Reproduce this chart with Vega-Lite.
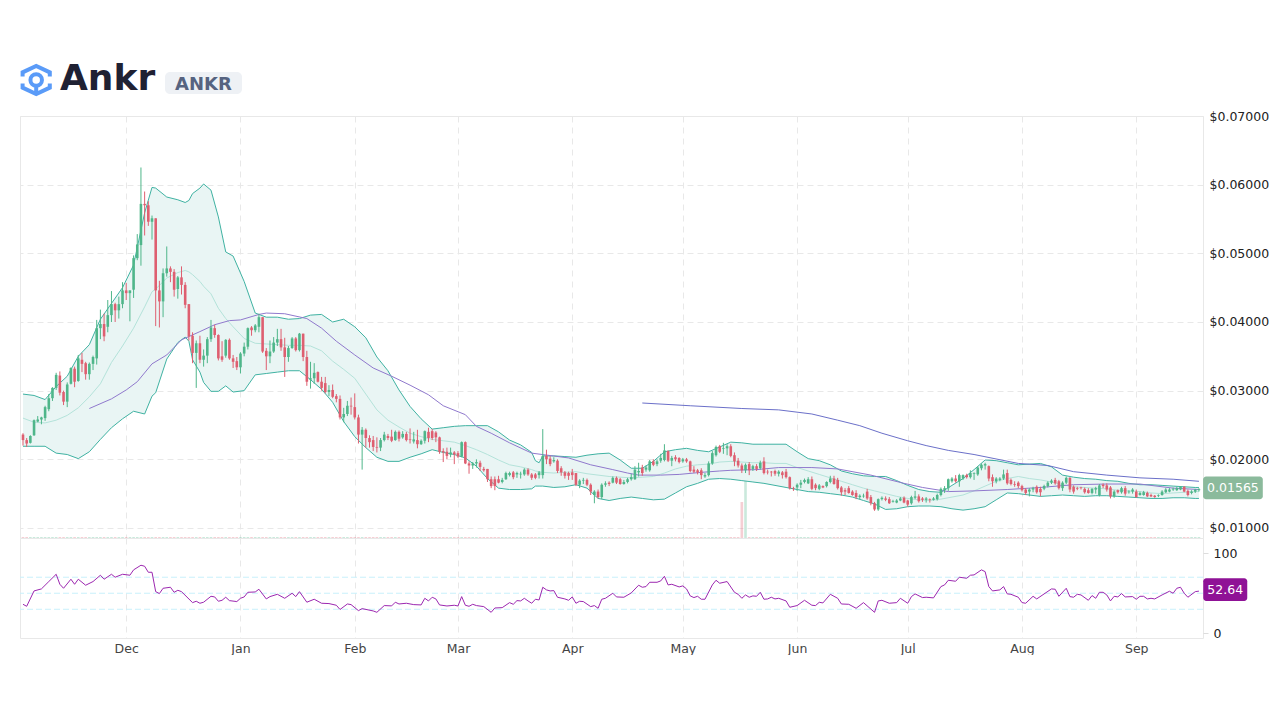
{"$schema":"https://vega.github.io/schema/vega-lite/v6.json","background":"white","padding":{"left":14,"top":56,"right":0,"bottom":0},"bounds":"flush","spacing":0,
"datasets":{
"candles":[
{"date":"2022-11-03","o":0.0236,"h":0.0238,"l":0.022,"c":0.0228,"v":1},{"date":"2022-11-04","o":0.0228,"h":0.0231,"l":0.0218,"c":0.0223,"v":1},{"date":"2022-11-05","o":0.0224,"h":0.0235,"l":0.0223,"c":0.0234,"v":1},{"date":"2022-11-06","o":0.0235,"h":0.0258,"l":0.0234,"c":0.0257,"v":1},{"date":"2022-11-07","o":0.0255,"h":0.0263,"l":0.0254,"c":0.0258,"v":1},{"date":"2022-11-08","o":0.0258,"h":0.0262,"l":0.0251,"c":0.0261,"v":1},{"date":"2022-11-09","o":0.026,"h":0.0278,"l":0.0256,"c":0.0276,"v":1},{"date":"2022-11-10","o":0.0273,"h":0.0295,"l":0.027,"c":0.0289,"v":1},{"date":"2022-11-11","o":0.0289,"h":0.0305,"l":0.0285,"c":0.0304,"v":1},{"date":"2022-11-12","o":0.0304,"h":0.0326,"l":0.0301,"c":0.0323,"v":1},
{"date":"2022-11-13","o":0.0322,"h":0.0328,"l":0.0293,"c":0.0297,"v":1},{"date":"2022-11-14","o":0.0298,"h":0.03,"l":0.0279,"c":0.0284,"v":1},{"date":"2022-11-15","o":0.0284,"h":0.0312,"l":0.0276,"c":0.0309,"v":1},{"date":"2022-11-16","o":0.031,"h":0.0334,"l":0.0309,"c":0.0333,"v":1},{"date":"2022-11-17","o":0.0332,"h":0.0335,"l":0.0305,"c":0.0313,"v":1},{"date":"2022-11-18","o":0.0314,"h":0.0352,"l":0.0313,"c":0.0347,"v":1},{"date":"2022-11-19","o":0.0345,"h":0.0355,"l":0.0327,"c":0.0339,"v":1},{"date":"2022-11-20","o":0.034,"h":0.0342,"l":0.0316,"c":0.0324,"v":1},{"date":"2022-11-21","o":0.0324,"h":0.0341,"l":0.0316,"c":0.0339,"v":1},{"date":"2022-11-22","o":0.0339,"h":0.0351,"l":0.033,"c":0.0349,"v":1},
{"date":"2022-11-23","o":0.0347,"h":0.0403,"l":0.0338,"c":0.0391,"v":1},{"date":"2022-11-24","o":0.0391,"h":0.0418,"l":0.0375,"c":0.0397,"v":1},{"date":"2022-11-25","o":0.0397,"h":0.0412,"l":0.0372,"c":0.0379,"v":1},{"date":"2022-11-26","o":0.0393,"h":0.0432,"l":0.0385,"c":0.041,"v":1},{"date":"2022-11-27","o":0.041,"h":0.0445,"l":0.04,"c":0.0426,"v":1},{"date":"2022-11-28","o":0.0426,"h":0.0428,"l":0.04,"c":0.0417,"v":1},{"date":"2022-11-29","o":0.0417,"h":0.0437,"l":0.0405,"c":0.0426,"v":1},{"date":"2022-11-30","o":0.0426,"h":0.0458,"l":0.042,"c":0.0446,"v":1},
{"date":"2022-12-01","o":0.0446,"h":0.0457,"l":0.0432,"c":0.0442,"v":1},{"date":"2022-12-02","o":0.0442,"h":0.0446,"l":0.0401,"c":0.0446,"v":1},{"date":"2022-12-03","o":0.0447,"h":0.0497,"l":0.0435,"c":0.0493,"v":1},{"date":"2022-12-04","o":0.0493,"h":0.0528,"l":0.049,"c":0.0513,"v":1},{"date":"2022-12-05","o":0.0512,"h":0.0625,"l":0.0482,"c":0.0572,"v":1},{"date":"2022-12-06","o":0.0572,"h":0.059,"l":0.0526,"c":0.057,"v":1},{"date":"2022-12-07","o":0.057,"h":0.0576,"l":0.054,"c":0.0546,"v":1},{"date":"2022-12-08","o":0.0546,"h":0.0555,"l":0.052,"c":0.0551,"v":1},{"date":"2022-12-09","o":0.0551,"h":0.0551,"l":0.0394,"c":0.0446,"v":1},{"date":"2022-12-10","o":0.0446,"h":0.046,"l":0.0392,"c":0.043,"v":1},
{"date":"2022-12-11","o":0.043,"h":0.0478,"l":0.0407,"c":0.0471,"v":1},{"date":"2022-12-12","o":0.0471,"h":0.051,"l":0.0466,"c":0.0478,"v":1},{"date":"2022-12-13","o":0.0478,"h":0.0481,"l":0.0458,"c":0.0473,"v":1},{"date":"2022-12-14","o":0.0473,"h":0.0477,"l":0.0437,"c":0.0447,"v":1},{"date":"2022-12-15","o":0.0448,"h":0.0467,"l":0.0434,"c":0.0465,"v":1},{"date":"2022-12-16","o":0.0465,"h":0.0481,"l":0.044,"c":0.0454,"v":1},{"date":"2022-12-17","o":0.0454,"h":0.0458,"l":0.042,"c":0.0425,"v":1},{"date":"2022-12-18","o":0.0426,"h":0.0426,"l":0.0373,"c":0.0379,"v":1},{"date":"2022-12-19","o":0.038,"h":0.0385,"l":0.034,"c":0.0355,"v":1},{"date":"2022-12-20","o":0.0355,"h":0.0373,"l":0.0304,"c":0.0369,"v":1},
{"date":"2022-12-21","o":0.0369,"h":0.038,"l":0.034,"c":0.0345,"v":1},{"date":"2022-12-22","o":0.0345,"h":0.036,"l":0.0335,"c":0.0351,"v":1},{"date":"2022-12-23","o":0.0351,"h":0.0378,"l":0.034,"c":0.0375,"v":1},{"date":"2022-12-24","o":0.0375,"h":0.0403,"l":0.0371,"c":0.0392,"v":1},{"date":"2022-12-25","o":0.0391,"h":0.0396,"l":0.0377,"c":0.0381,"v":1},{"date":"2022-12-26","o":0.0381,"h":0.0382,"l":0.0344,"c":0.0347,"v":1},{"date":"2022-12-27","o":0.035,"h":0.0372,"l":0.0342,"c":0.0345,"v":1},{"date":"2022-12-28","o":0.0351,"h":0.0375,"l":0.0348,"c":0.0374,"v":1},{"date":"2022-12-29","o":0.0374,"h":0.0376,"l":0.0345,"c":0.0347,"v":1},{"date":"2022-12-30","o":0.0347,"h":0.0352,"l":0.0333,"c":0.0342,"v":1},{"date":"2022-12-31","o":0.0343,"h":0.0349,"l":0.033,"c":0.0334,"v":1},
{"date":"2023-01-01","o":0.0334,"h":0.0356,"l":0.0325,"c":0.0354,"v":1},{"date":"2023-01-02","o":0.0354,"h":0.037,"l":0.035,"c":0.0364,"v":1},{"date":"2023-01-03","o":0.0364,"h":0.0392,"l":0.036,"c":0.0391,"v":1},{"date":"2023-01-04","o":0.0392,"h":0.0394,"l":0.038,"c":0.0388,"v":1},{"date":"2023-01-05","o":0.0388,"h":0.0397,"l":0.0385,"c":0.0395,"v":1},{"date":"2023-01-06","o":0.0393,"h":0.0412,"l":0.0385,"c":0.0407,"v":1},{"date":"2023-01-07","o":0.0407,"h":0.0407,"l":0.0355,"c":0.0357,"v":1},{"date":"2023-01-08","o":0.0358,"h":0.0362,"l":0.033,"c":0.035,"v":1},{"date":"2023-01-09","o":0.035,"h":0.0373,"l":0.034,"c":0.0357,"v":1},{"date":"2023-01-10","o":0.0357,"h":0.0378,"l":0.0355,"c":0.037,"v":1},
{"date":"2023-01-11","o":0.037,"h":0.039,"l":0.0365,"c":0.0375,"v":1},{"date":"2023-01-12","o":0.0375,"h":0.039,"l":0.0358,"c":0.0363,"v":1},{"date":"2023-01-13","o":0.0363,"h":0.0377,"l":0.032,"c":0.0349,"v":1},{"date":"2023-01-14","o":0.0349,"h":0.0365,"l":0.0342,"c":0.0362,"v":1},{"date":"2023-01-15","o":0.0362,"h":0.0378,"l":0.0361,"c":0.0376,"v":1},{"date":"2023-01-16","o":0.0376,"h":0.0378,"l":0.0357,"c":0.0359,"v":1},{"date":"2023-01-17","o":0.0359,"h":0.0384,"l":0.0357,"c":0.0383,"v":1},{"date":"2023-01-18","o":0.0383,"h":0.0383,"l":0.0343,"c":0.0349,"v":1},{"date":"2023-01-19","o":0.0349,"h":0.0358,"l":0.0307,"c":0.0313,"v":1},{"date":"2023-01-20","o":0.0316,"h":0.0342,"l":0.0303,"c":0.0318,"v":1},
{"date":"2023-01-21","o":0.0318,"h":0.034,"l":0.031,"c":0.0326,"v":1},{"date":"2023-01-22","o":0.0327,"h":0.0328,"l":0.0312,"c":0.0313,"v":1},{"date":"2023-01-23","o":0.0313,"h":0.032,"l":0.03,"c":0.0304,"v":1},{"date":"2023-01-24","o":0.0311,"h":0.032,"l":0.0296,"c":0.0298,"v":1},{"date":"2023-01-25","o":0.0298,"h":0.0308,"l":0.0292,"c":0.0301,"v":1},{"date":"2023-01-26","o":0.0301,"h":0.0309,"l":0.0289,"c":0.0291,"v":1},{"date":"2023-01-27","o":0.0292,"h":0.0295,"l":0.0283,"c":0.0288,"v":1},{"date":"2023-01-28","o":0.0288,"h":0.0293,"l":0.0258,"c":0.0261,"v":1},{"date":"2023-01-29","o":0.0261,"h":0.0275,"l":0.0254,"c":0.0266,"v":1},{"date":"2023-01-30","o":0.0266,"h":0.0285,"l":0.0263,"c":0.0278,"v":1},{"date":"2023-01-31","o":0.0278,"h":0.029,"l":0.0265,"c":0.0277,"v":1},
{"date":"2023-02-01","o":0.0276,"h":0.0296,"l":0.0258,"c":0.0261,"v":1},{"date":"2023-02-02","o":0.0261,"h":0.0265,"l":0.0223,"c":0.0236,"v":1},{"date":"2023-02-03","o":0.0236,"h":0.0247,"l":0.0185,"c":0.0243,"v":1},{"date":"2023-02-04","o":0.0243,"h":0.0245,"l":0.0217,"c":0.0231,"v":1},{"date":"2023-02-05","o":0.0231,"h":0.0235,"l":0.0217,"c":0.0225,"v":1},{"date":"2023-02-06","o":0.0228,"h":0.0234,"l":0.0212,"c":0.0218,"v":1},{"date":"2023-02-07","o":0.0218,"h":0.0232,"l":0.021,"c":0.0217,"v":1},{"date":"2023-02-08","o":0.0217,"h":0.0231,"l":0.0212,"c":0.0228,"v":1},{"date":"2023-02-09","o":0.0228,"h":0.024,"l":0.0226,"c":0.0236,"v":1},{"date":"2023-02-10","o":0.0234,"h":0.0237,"l":0.0228,"c":0.0231,"v":1},
{"date":"2023-02-11","o":0.0233,"h":0.0243,"l":0.0225,"c":0.0227,"v":1},{"date":"2023-02-12","o":0.0228,"h":0.0242,"l":0.0227,"c":0.024,"v":1},{"date":"2023-02-13","o":0.024,"h":0.0242,"l":0.0226,"c":0.023,"v":1},{"date":"2023-02-14","o":0.0232,"h":0.0241,"l":0.023,"c":0.0237,"v":1},{"date":"2023-02-15","o":0.0237,"h":0.024,"l":0.0226,"c":0.0228,"v":1},{"date":"2023-02-16","o":0.0229,"h":0.0245,"l":0.0223,"c":0.0228,"v":1},{"date":"2023-02-17","o":0.0226,"h":0.024,"l":0.0223,"c":0.0229,"v":1},{"date":"2023-02-18","o":0.0228,"h":0.0243,"l":0.0216,"c":0.0222,"v":1},{"date":"2023-02-19","o":0.0222,"h":0.0229,"l":0.0221,"c":0.0227,"v":1},{"date":"2023-02-20","o":0.0227,"h":0.0242,"l":0.0223,"c":0.0241,"v":1},
{"date":"2023-02-21","o":0.024,"h":0.0246,"l":0.0225,"c":0.0231,"v":1},{"date":"2023-02-22","o":0.0241,"h":0.0244,"l":0.0228,"c":0.0231,"v":1},{"date":"2023-02-23","o":0.0239,"h":0.0241,"l":0.0225,"c":0.0232,"v":1},{"date":"2023-02-24","o":0.0232,"h":0.0233,"l":0.0208,"c":0.0211,"v":1},{"date":"2023-02-25","o":0.0212,"h":0.0216,"l":0.0196,"c":0.021,"v":1},{"date":"2023-02-26","o":0.0211,"h":0.0217,"l":0.02,"c":0.0205,"v":1},{"date":"2023-02-27","o":0.0207,"h":0.0217,"l":0.0203,"c":0.021,"v":1},{"date":"2023-02-28","o":0.021,"h":0.0212,"l":0.0193,"c":0.0207,"v":1},
{"date":"2023-03-01","o":0.0209,"h":0.0212,"l":0.0202,"c":0.0204,"v":1},{"date":"2023-03-02","o":0.0204,"h":0.0226,"l":0.0203,"c":0.0225,"v":1},{"date":"2023-03-03","o":0.0225,"h":0.0226,"l":0.0193,"c":0.0194,"v":1},{"date":"2023-03-04","o":0.0194,"h":0.0197,"l":0.0179,"c":0.0191,"v":1},{"date":"2023-03-05","o":0.0191,"h":0.0196,"l":0.0186,"c":0.0194,"v":1},{"date":"2023-03-06","o":0.0194,"h":0.02,"l":0.0188,"c":0.0196,"v":1},{"date":"2023-03-07","o":0.0195,"h":0.0198,"l":0.0183,"c":0.0189,"v":1},{"date":"2023-03-08","o":0.0186,"h":0.0189,"l":0.0182,"c":0.0184,"v":1},{"date":"2023-03-09","o":0.0186,"h":0.0186,"l":0.0167,"c":0.0171,"v":1},{"date":"2023-03-10","o":0.0171,"h":0.0175,"l":0.0158,"c":0.0161,"v":1},
{"date":"2023-03-11","o":0.0171,"h":0.0175,"l":0.0155,"c":0.0161,"v":1},{"date":"2023-03-12","o":0.0171,"h":0.0176,"l":0.0165,"c":0.0166,"v":1},{"date":"2023-03-13","o":0.0167,"h":0.0173,"l":0.0165,"c":0.017,"v":1},{"date":"2023-03-14","o":0.0171,"h":0.0182,"l":0.017,"c":0.018,"v":1},{"date":"2023-03-15","o":0.0177,"h":0.0182,"l":0.0175,"c":0.018,"v":1},{"date":"2023-03-16","o":0.0181,"h":0.0183,"l":0.0171,"c":0.0174,"v":1},{"date":"2023-03-17","o":0.0178,"h":0.0182,"l":0.0173,"c":0.018,"v":1},{"date":"2023-03-18","o":0.0178,"h":0.0182,"l":0.0172,"c":0.0179,"v":1},{"date":"2023-03-19","o":0.0178,"h":0.0187,"l":0.0176,"c":0.0185,"v":1},{"date":"2023-03-20","o":0.0185,"h":0.0187,"l":0.0176,"c":0.0178,"v":1},
{"date":"2023-03-21","o":0.0178,"h":0.018,"l":0.017,"c":0.0173,"v":1},{"date":"2023-03-22","o":0.0178,"h":0.018,"l":0.0171,"c":0.0173,"v":1},{"date":"2023-03-23","o":0.0177,"h":0.0183,"l":0.0172,"c":0.0181,"v":1},{"date":"2023-03-24","o":0.0177,"h":0.0244,"l":0.0172,"c":0.0205,"v":1},{"date":"2023-03-25","o":0.0205,"h":0.0214,"l":0.0193,"c":0.02,"v":1},{"date":"2023-03-26","o":0.0201,"h":0.0205,"l":0.019,"c":0.0193,"v":1},{"date":"2023-03-27","o":0.0197,"h":0.0203,"l":0.0195,"c":0.0199,"v":1},{"date":"2023-03-28","o":0.0198,"h":0.02,"l":0.018,"c":0.0183,"v":1},{"date":"2023-03-29","o":0.0187,"h":0.019,"l":0.0176,"c":0.0181,"v":1},{"date":"2023-03-30","o":0.0181,"h":0.0183,"l":0.0172,"c":0.0176,"v":1},{"date":"2023-03-31","o":0.018,"h":0.0182,"l":0.017,"c":0.0176,"v":1},
{"date":"2023-04-01","o":0.0181,"h":0.0186,"l":0.017,"c":0.0177,"v":1},{"date":"2023-04-02","o":0.018,"h":0.018,"l":0.0161,"c":0.0163,"v":1},{"date":"2023-04-03","o":0.0163,"h":0.0171,"l":0.0158,"c":0.0169,"v":1},{"date":"2023-04-04","o":0.0169,"h":0.0173,"l":0.0164,"c":0.017,"v":1},{"date":"2023-04-05","o":0.017,"h":0.0172,"l":0.0161,"c":0.0163,"v":1},{"date":"2023-04-06","o":0.0163,"h":0.0165,"l":0.0148,"c":0.0153,"v":1},{"date":"2023-04-07","o":0.0148,"h":0.0155,"l":0.0136,"c":0.0153,"v":1},{"date":"2023-04-08","o":0.0153,"h":0.0156,"l":0.0143,"c":0.0145,"v":1},{"date":"2023-04-09","o":0.0145,"h":0.0165,"l":0.0142,"c":0.0163,"v":1},{"date":"2023-04-10","o":0.0163,"h":0.0168,"l":0.016,"c":0.0165,"v":1},
{"date":"2023-04-11","o":0.0166,"h":0.0168,"l":0.0161,"c":0.0164,"v":1},{"date":"2023-04-12","o":0.0166,"h":0.0175,"l":0.0165,"c":0.0173,"v":1},{"date":"2023-04-13","o":0.0173,"h":0.0175,"l":0.0164,"c":0.0166,"v":1},{"date":"2023-04-14","o":0.0171,"h":0.0173,"l":0.0163,"c":0.0164,"v":1},{"date":"2023-04-15","o":0.0164,"h":0.017,"l":0.0163,"c":0.0167,"v":1},{"date":"2023-04-16","o":0.0167,"h":0.0173,"l":0.0165,"c":0.0171,"v":1},{"date":"2023-04-17","o":0.0171,"h":0.0179,"l":0.0169,"c":0.0174,"v":1},{"date":"2023-04-18","o":0.0171,"h":0.019,"l":0.017,"c":0.0185,"v":1},{"date":"2023-04-19","o":0.0181,"h":0.0195,"l":0.0175,"c":0.0183,"v":1},{"date":"2023-04-20","o":0.0188,"h":0.0192,"l":0.0176,"c":0.018,"v":1},
{"date":"2023-04-21","o":0.0185,"h":0.0191,"l":0.0182,"c":0.0188,"v":1},{"date":"2023-04-22","o":0.0184,"h":0.0199,"l":0.0182,"c":0.0197,"v":1},{"date":"2023-04-23","o":0.0197,"h":0.02,"l":0.019,"c":0.0192,"v":1},{"date":"2023-04-24","o":0.0193,"h":0.02,"l":0.019,"c":0.0197,"v":1},{"date":"2023-04-25","o":0.0198,"h":0.0208,"l":0.0195,"c":0.0202,"v":1},{"date":"2023-04-26","o":0.0199,"h":0.0222,"l":0.0197,"c":0.0213,"v":1},{"date":"2023-04-27","o":0.0212,"h":0.0213,"l":0.0196,"c":0.0198,"v":1},{"date":"2023-04-28","o":0.0198,"h":0.0205,"l":0.019,"c":0.0202,"v":1},{"date":"2023-04-29","o":0.0203,"h":0.0206,"l":0.0197,"c":0.02,"v":1},{"date":"2023-04-30","o":0.0202,"h":0.0203,"l":0.0194,"c":0.0196,"v":1},
{"date":"2023-05-01","o":0.0197,"h":0.0202,"l":0.0195,"c":0.02,"v":1},{"date":"2023-05-02","o":0.02,"h":0.0202,"l":0.0195,"c":0.0197,"v":1},{"date":"2023-05-03","o":0.0197,"h":0.0198,"l":0.0181,"c":0.0183,"v":1},{"date":"2023-05-04","o":0.0185,"h":0.019,"l":0.018,"c":0.0182,"v":1},{"date":"2023-05-05","o":0.0184,"h":0.0186,"l":0.0178,"c":0.0181,"v":1},{"date":"2023-05-06","o":0.0184,"h":0.0187,"l":0.0171,"c":0.0177,"v":1},{"date":"2023-05-07","o":0.0175,"h":0.018,"l":0.0173,"c":0.0177,"v":1},{"date":"2023-05-08","o":0.0177,"h":0.0197,"l":0.0175,"c":0.0194,"v":1},{"date":"2023-05-09","o":0.0194,"h":0.0212,"l":0.0192,"c":0.0209,"v":1},{"date":"2023-05-10","o":0.0206,"h":0.022,"l":0.0204,"c":0.0218,"v":1},
{"date":"2023-05-11","o":0.0219,"h":0.0221,"l":0.0209,"c":0.0211,"v":1},{"date":"2023-05-12","o":0.0215,"h":0.0224,"l":0.0208,"c":0.0216,"v":1},{"date":"2023-05-13","o":0.0216,"h":0.0222,"l":0.0206,"c":0.0219,"v":1},{"date":"2023-05-14","o":0.0219,"h":0.0222,"l":0.0203,"c":0.0205,"v":1},{"date":"2023-05-15","o":0.0206,"h":0.021,"l":0.019,"c":0.0197,"v":1},{"date":"2023-05-16","o":0.0198,"h":0.0202,"l":0.0188,"c":0.0191,"v":1},{"date":"2023-05-17","o":0.0191,"h":0.0194,"l":0.018,"c":0.0184,"v":36},{"date":"2023-05-18","o":0.0184,"h":0.0194,"l":0.018,"c":0.0192,"v":71},{"date":"2023-05-19","o":0.0193,"h":0.0196,"l":0.0177,"c":0.0184,"v":1},{"date":"2023-05-20","o":0.0186,"h":0.0192,"l":0.0183,"c":0.019,"v":1},
{"date":"2023-05-21","o":0.019,"h":0.0193,"l":0.0183,"c":0.0186,"v":1},{"date":"2023-05-22","o":0.0187,"h":0.0198,"l":0.0185,"c":0.0195,"v":1},{"date":"2023-05-23","o":0.0197,"h":0.0203,"l":0.0178,"c":0.018,"v":1},{"date":"2023-05-24","o":0.0182,"h":0.0185,"l":0.0178,"c":0.0181,"v":1},{"date":"2023-05-25","o":0.0182,"h":0.0183,"l":0.0175,"c":0.0181,"v":1},{"date":"2023-05-26","o":0.0183,"h":0.0185,"l":0.0176,"c":0.0179,"v":1},{"date":"2023-05-27","o":0.0179,"h":0.0184,"l":0.0175,"c":0.0182,"v":1},{"date":"2023-05-28","o":0.0181,"h":0.0183,"l":0.0172,"c":0.0177,"v":1},{"date":"2023-05-29","o":0.0182,"h":0.0186,"l":0.0172,"c":0.0174,"v":1},{"date":"2023-05-30","o":0.0174,"h":0.0175,"l":0.0156,"c":0.0158,"v":1},{"date":"2023-05-31","o":0.0158,"h":0.016,"l":0.0154,"c":0.0157,"v":1},
{"date":"2023-06-01","o":0.0159,"h":0.0165,"l":0.0154,"c":0.0163,"v":1},{"date":"2023-06-02","o":0.0163,"h":0.017,"l":0.0158,"c":0.0166,"v":1},{"date":"2023-06-03","o":0.0167,"h":0.0172,"l":0.0165,"c":0.017,"v":1},{"date":"2023-06-04","o":0.0165,"h":0.0174,"l":0.0164,"c":0.0171,"v":1},{"date":"2023-06-05","o":0.0171,"h":0.0175,"l":0.0155,"c":0.0157,"v":1},{"date":"2023-06-06","o":0.0163,"h":0.0165,"l":0.0155,"c":0.0158,"v":1},{"date":"2023-06-07","o":0.0157,"h":0.0164,"l":0.0155,"c":0.0162,"v":1},{"date":"2023-06-08","o":0.0161,"h":0.0162,"l":0.0158,"c":0.0159,"v":1},{"date":"2023-06-09","o":0.0161,"h":0.0168,"l":0.0159,"c":0.0167,"v":1},{"date":"2023-06-10","o":0.0167,"h":0.0176,"l":0.0165,"c":0.0172,"v":1},
{"date":"2023-06-11","o":0.0172,"h":0.0176,"l":0.0163,"c":0.0164,"v":1},{"date":"2023-06-12","o":0.017,"h":0.0173,"l":0.0156,"c":0.0158,"v":1},{"date":"2023-06-13","o":0.0159,"h":0.0161,"l":0.0147,"c":0.0152,"v":1},{"date":"2023-06-14","o":0.0155,"h":0.0158,"l":0.0148,"c":0.0153,"v":1},{"date":"2023-06-15","o":0.0158,"h":0.0161,"l":0.015,"c":0.0151,"v":1},{"date":"2023-06-16","o":0.0153,"h":0.0155,"l":0.0147,"c":0.0148,"v":1},{"date":"2023-06-17","o":0.0151,"h":0.0155,"l":0.0142,"c":0.0145,"v":1},{"date":"2023-06-18","o":0.0145,"h":0.0149,"l":0.0142,"c":0.0147,"v":1},{"date":"2023-06-19","o":0.0146,"h":0.015,"l":0.0144,"c":0.0147,"v":1},{"date":"2023-06-20","o":0.0153,"h":0.0157,"l":0.0141,"c":0.0143,"v":1},
{"date":"2023-06-21","o":0.0145,"h":0.0148,"l":0.0133,"c":0.0136,"v":1},{"date":"2023-06-22","o":0.0136,"h":0.0138,"l":0.0125,"c":0.0127,"v":1},{"date":"2023-06-23","o":0.0127,"h":0.0143,"l":0.0125,"c":0.0142,"v":1},{"date":"2023-06-24","o":0.0142,"h":0.0146,"l":0.014,"c":0.0144,"v":1},{"date":"2023-06-25","o":0.0143,"h":0.0146,"l":0.0139,"c":0.0141,"v":1},{"date":"2023-06-26","o":0.0142,"h":0.0145,"l":0.0135,"c":0.0136,"v":1},{"date":"2023-06-27","o":0.0138,"h":0.0141,"l":0.0137,"c":0.0139,"v":1},{"date":"2023-06-28","o":0.0137,"h":0.0142,"l":0.0136,"c":0.014,"v":1},{"date":"2023-06-29","o":0.014,"h":0.0145,"l":0.0139,"c":0.0143,"v":1},{"date":"2023-06-30","o":0.0144,"h":0.0146,"l":0.0136,"c":0.0137,"v":1},
{"date":"2023-07-01","o":0.014,"h":0.0141,"l":0.0131,"c":0.0134,"v":1},{"date":"2023-07-02","o":0.0136,"h":0.0147,"l":0.0134,"c":0.0145,"v":1},{"date":"2023-07-03","o":0.0144,"h":0.0154,"l":0.0142,"c":0.0146,"v":1},{"date":"2023-07-04","o":0.0146,"h":0.0149,"l":0.0137,"c":0.0139,"v":1},{"date":"2023-07-05","o":0.0143,"h":0.0145,"l":0.0138,"c":0.0141,"v":1},{"date":"2023-07-06","o":0.0141,"h":0.0145,"l":0.0137,"c":0.0143,"v":1},{"date":"2023-07-07","o":0.0142,"h":0.0143,"l":0.0137,"c":0.0141,"v":1},{"date":"2023-07-08","o":0.0141,"h":0.0145,"l":0.014,"c":0.0143,"v":1},{"date":"2023-07-09","o":0.0142,"h":0.015,"l":0.014,"c":0.0148,"v":1},{"date":"2023-07-10","o":0.0148,"h":0.0159,"l":0.0146,"c":0.0157,"v":1},
{"date":"2023-07-11","o":0.0155,"h":0.0161,"l":0.0151,"c":0.0158,"v":1},{"date":"2023-07-12","o":0.0158,"h":0.0172,"l":0.0154,"c":0.0171,"v":1},{"date":"2023-07-13","o":0.0168,"h":0.0174,"l":0.0166,"c":0.0172,"v":1},{"date":"2023-07-14","o":0.0172,"h":0.0177,"l":0.0166,"c":0.0168,"v":1},{"date":"2023-07-15","o":0.0168,"h":0.0179,"l":0.016,"c":0.0177,"v":1},{"date":"2023-07-16","o":0.0172,"h":0.0178,"l":0.017,"c":0.0177,"v":1},{"date":"2023-07-17","o":0.0177,"h":0.0179,"l":0.0172,"c":0.0174,"v":1},{"date":"2023-07-18","o":0.0174,"h":0.0184,"l":0.0172,"c":0.018,"v":1},{"date":"2023-07-19","o":0.0179,"h":0.0181,"l":0.017,"c":0.018,"v":1},{"date":"2023-07-20","o":0.0178,"h":0.019,"l":0.0176,"c":0.0188,"v":1},
{"date":"2023-07-21","o":0.0187,"h":0.0194,"l":0.0184,"c":0.0192,"v":1},{"date":"2023-07-22","o":0.0191,"h":0.0195,"l":0.0185,"c":0.0193,"v":1},{"date":"2023-07-23","o":0.019,"h":0.0191,"l":0.0168,"c":0.0172,"v":1},{"date":"2023-07-24","o":0.0174,"h":0.0178,"l":0.016,"c":0.0168,"v":1},{"date":"2023-07-25","o":0.0168,"h":0.0174,"l":0.0165,"c":0.0172,"v":1},{"date":"2023-07-26","o":0.017,"h":0.0174,"l":0.0168,"c":0.0172,"v":1},{"date":"2023-07-27","o":0.0172,"h":0.0185,"l":0.017,"c":0.0178,"v":1},{"date":"2023-07-28","o":0.018,"h":0.0185,"l":0.0163,"c":0.0165,"v":1},{"date":"2023-07-29","o":0.017,"h":0.0172,"l":0.0162,"c":0.0164,"v":1},{"date":"2023-07-30","o":0.0164,"h":0.0168,"l":0.016,"c":0.0163,"v":1},{"date":"2023-07-31","o":0.0166,"h":0.0168,"l":0.0158,"c":0.0161,"v":1},
{"date":"2023-08-01","o":0.0161,"h":0.0163,"l":0.0153,"c":0.0155,"v":1},{"date":"2023-08-02","o":0.0156,"h":0.0158,"l":0.0148,"c":0.0151,"v":1},{"date":"2023-08-03","o":0.0153,"h":0.0158,"l":0.0146,"c":0.0156,"v":1},{"date":"2023-08-04","o":0.0156,"h":0.016,"l":0.0152,"c":0.0158,"v":1},{"date":"2023-08-05","o":0.016,"h":0.0162,"l":0.015,"c":0.0152,"v":1},{"date":"2023-08-06","o":0.0157,"h":0.016,"l":0.0146,"c":0.0152,"v":1},{"date":"2023-08-07","o":0.0157,"h":0.0163,"l":0.0155,"c":0.0161,"v":1},{"date":"2023-08-08","o":0.0161,"h":0.0168,"l":0.0159,"c":0.0166,"v":1},{"date":"2023-08-09","o":0.0166,"h":0.0171,"l":0.0164,"c":0.0169,"v":1},{"date":"2023-08-10","o":0.017,"h":0.0173,"l":0.0163,"c":0.0165,"v":1},
{"date":"2023-08-11","o":0.0168,"h":0.017,"l":0.0156,"c":0.0158,"v":1},{"date":"2023-08-12","o":0.0158,"h":0.0168,"l":0.0154,"c":0.0166,"v":1},{"date":"2023-08-13","o":0.0166,"h":0.0175,"l":0.0164,"c":0.0173,"v":1},{"date":"2023-08-14","o":0.0173,"h":0.0174,"l":0.0152,"c":0.0156,"v":1},{"date":"2023-08-15","o":0.016,"h":0.0162,"l":0.015,"c":0.0153,"v":1},{"date":"2023-08-16","o":0.0158,"h":0.016,"l":0.0155,"c":0.0157,"v":1},{"date":"2023-08-17","o":0.0159,"h":0.016,"l":0.0156,"c":0.0158,"v":1},{"date":"2023-08-18","o":0.0157,"h":0.0159,"l":0.015,"c":0.0152,"v":1},{"date":"2023-08-19","o":0.0155,"h":0.0158,"l":0.015,"c":0.0151,"v":1},{"date":"2023-08-20","o":0.0151,"h":0.0158,"l":0.0149,"c":0.0157,"v":1},
{"date":"2023-08-21","o":0.0156,"h":0.016,"l":0.015,"c":0.0158,"v":1},{"date":"2023-08-22","o":0.0148,"h":0.0164,"l":0.0146,"c":0.0162,"v":1},{"date":"2023-08-23","o":0.0163,"h":0.0165,"l":0.0158,"c":0.0161,"v":1},{"date":"2023-08-24","o":0.0162,"h":0.0165,"l":0.0153,"c":0.0156,"v":1},{"date":"2023-08-25","o":0.0159,"h":0.0161,"l":0.0143,"c":0.0146,"v":1},{"date":"2023-08-26","o":0.0146,"h":0.0155,"l":0.0144,"c":0.0153,"v":1},{"date":"2023-08-27","o":0.0155,"h":0.0156,"l":0.015,"c":0.0152,"v":1},{"date":"2023-08-28","o":0.0152,"h":0.016,"l":0.015,"c":0.0158,"v":1},{"date":"2023-08-29","o":0.0158,"h":0.0161,"l":0.0147,"c":0.015,"v":1},{"date":"2023-08-30","o":0.0152,"h":0.0155,"l":0.015,"c":0.0153,"v":1},{"date":"2023-08-31","o":0.0153,"h":0.0158,"l":0.015,"c":0.0156,"v":1},
{"date":"2023-09-01","o":0.0153,"h":0.0156,"l":0.0144,"c":0.0145,"v":1},{"date":"2023-09-02","o":0.0148,"h":0.0153,"l":0.0147,"c":0.0151,"v":1},{"date":"2023-09-03","o":0.0148,"h":0.0154,"l":0.0147,"c":0.0152,"v":1},{"date":"2023-09-04","o":0.0151,"h":0.0153,"l":0.0145,"c":0.0146,"v":1},{"date":"2023-09-05","o":0.0148,"h":0.015,"l":0.0145,"c":0.0146,"v":1},{"date":"2023-09-06","o":0.0147,"h":0.0148,"l":0.0144,"c":0.0145,"v":1},{"date":"2023-09-07","o":0.0147,"h":0.0149,"l":0.0145,"c":0.0148,"v":1},{"date":"2023-09-08","o":0.0148,"h":0.0155,"l":0.0147,"c":0.0153,"v":1},{"date":"2023-09-09","o":0.0152,"h":0.0158,"l":0.0151,"c":0.0156,"v":1},{"date":"2023-09-10","o":0.0153,"h":0.0158,"l":0.0152,"c":0.0156,"v":1},
{"date":"2023-09-11","o":0.0156,"h":0.0159,"l":0.0154,"c":0.0157,"v":1},{"date":"2023-09-12","o":0.0155,"h":0.016,"l":0.0154,"c":0.0158,"v":1},{"date":"2023-09-13","o":0.0156,"h":0.0161,"l":0.0155,"c":0.016,"v":1},{"date":"2023-09-14","o":0.016,"h":0.0161,"l":0.0152,"c":0.0153,"v":1},{"date":"2023-09-15","o":0.0154,"h":0.0156,"l":0.0146,"c":0.0148,"v":1},{"date":"2023-09-16","o":0.0151,"h":0.0155,"l":0.0149,"c":0.0153,"v":1},{"date":"2023-09-17","o":0.0153,"h":0.0157,"l":0.0151,"c":0.0156,"v":1},{"date":"2023-09-18","o":0.0155,"h":0.0158,"l":0.0153,"c":0.01565,"v":1}
],
"bands":[
{"date":"2022-11-03","up":0.0295,"mid":0.026,"lo":0.0219},{"date":"2022-11-06","up":0.0293,"mid":0.0254,"lo":0.0219},{"date":"2022-11-09","up":0.0287,"mid":0.0253,"lo":0.0219},{"date":"2022-11-12","up":0.0306,"mid":0.0257,"lo":0.0209},{"date":"2022-11-15","up":0.0321,"mid":0.0264,"lo":0.0207},{"date":"2022-11-18","up":0.035,"mid":0.0275,"lo":0.0201},{"date":"2022-11-21","up":0.0367,"mid":0.0291,"lo":0.0211},{"date":"2022-11-24","up":0.0404,"mid":0.031,"lo":0.0229},{"date":"2022-11-27","up":0.0427,"mid":0.0341,"lo":0.0246},{"date":"2022-11-30","up":0.045,"mid":0.0365,"lo":0.0259},
{"date":"2022-12-03","up":0.0483,"mid":0.0391,"lo":0.027},{"date":"2022-12-06","up":0.0559,"mid":0.0422,"lo":0.0266},{"date":"2022-12-08","up":0.0596,"mid":0.0444,"lo":0.0292},{"date":"2022-12-09","up":0.0595,"mid":0.0448,"lo":0.0297},{"date":"2022-12-12","up":0.0582,"mid":0.0464,"lo":0.0346},{"date":"2022-12-15","up":0.0578,"mid":0.0472,"lo":0.037},{"date":"2022-12-17","up":0.0574,"mid":0.0475,"lo":0.0378},{"date":"2022-12-18","up":0.0577,"mid":0.0473,"lo":0.0372},{"date":"2022-12-19","up":0.0587,"mid":0.0469,"lo":0.0345},{"date":"2022-12-21","up":0.0595,"mid":0.0459,"lo":0.0327},{"date":"2022-12-22","up":0.0601,"mid":0.0452,"lo":0.0312},{"date":"2022-12-24","up":0.0592,"mid":0.0441,"lo":0.0299},{"date":"2022-12-26","up":0.0553,"mid":0.042,"lo":0.0299},{"date":"2022-12-28","up":0.0502,"mid":0.0405,"lo":0.0307},{"date":"2022-12-30","up":0.0496,"mid":0.0393,"lo":0.0298},
{"date":"2023-01-02","up":0.0459,"mid":0.0376,"lo":0.03},{"date":"2023-01-05","up":0.0413,"mid":0.0369,"lo":0.0323},{"date":"2023-01-08","up":0.0407,"mid":0.0368,"lo":0.0325},{"date":"2023-01-11","up":0.0407,"mid":0.0367,"lo":0.0327},{"date":"2023-01-14","up":0.0404,"mid":0.0366,"lo":0.0329},{"date":"2023-01-17","up":0.0405,"mid":0.0366,"lo":0.0329},{"date":"2023-01-20","up":0.041,"mid":0.0365,"lo":0.0316},{"date":"2023-01-23","up":0.0411,"mid":0.0358,"lo":0.0302},{"date":"2023-01-26","up":0.04,"mid":0.0343,"lo":0.0283},{"date":"2023-01-29","up":0.0404,"mid":0.0331,"lo":0.0255},
{"date":"2023-02-01","up":0.0393,"mid":0.0318,"lo":0.0233},{"date":"2023-02-04","up":0.0377,"mid":0.0295,"lo":0.0217},{"date":"2023-02-07","up":0.0349,"mid":0.0272,"lo":0.0203},{"date":"2023-02-10","up":0.0329,"mid":0.0257,"lo":0.0197},{"date":"2023-02-13","up":0.0301,"mid":0.0247,"lo":0.0197},{"date":"2023-02-16","up":0.0277,"mid":0.0238,"lo":0.0203},{"date":"2023-02-19","up":0.0259,"mid":0.0233,"lo":0.0208},{"date":"2023-02-22","up":0.0244,"mid":0.0229,"lo":0.0214},{"date":"2023-02-25","up":0.0246,"mid":0.0227,"lo":0.021},{"date":"2023-02-28","up":0.0248,"mid":0.0225,"lo":0.0207},
{"date":"2023-03-03","up":0.0249,"mid":0.022,"lo":0.0202},{"date":"2023-03-06","up":0.0249,"mid":0.0214,"lo":0.019},{"date":"2023-03-09","up":0.0249,"mid":0.0207,"lo":0.0172},{"date":"2023-03-12","up":0.024,"mid":0.0199,"lo":0.0158},{"date":"2023-03-15","up":0.0228,"mid":0.0192,"lo":0.0156},{"date":"2023-03-18","up":0.0221,"mid":0.0189,"lo":0.0156},{"date":"2023-03-21","up":0.021,"mid":0.0185,"lo":0.0157},{"date":"2023-03-22","up":0.0198,"mid":0.0183,"lo":0.0161},{"date":"2023-03-23","up":0.0195,"mid":0.0182,"lo":0.0161},{"date":"2023-03-24","up":0.0205,"mid":0.0181,"lo":0.0161},{"date":"2023-03-27","up":0.0205,"mid":0.018,"lo":0.0159},{"date":"2023-03-30","up":0.0204,"mid":0.0181,"lo":0.016},
{"date":"2023-04-02","up":0.0203,"mid":0.0182,"lo":0.0163},{"date":"2023-04-05","up":0.0206,"mid":0.0179,"lo":0.0158},{"date":"2023-04-08","up":0.0208,"mid":0.0177,"lo":0.0143},{"date":"2023-04-11","up":0.0209,"mid":0.0175,"lo":0.014},{"date":"2023-04-14","up":0.0199,"mid":0.0174,"lo":0.0143},{"date":"2023-04-17","up":0.0187,"mid":0.0173,"lo":0.0145},{"date":"2023-04-20","up":0.0187,"mid":0.0174,"lo":0.0143},{"date":"2023-04-23","up":0.0197,"mid":0.0175,"lo":0.0141},{"date":"2023-04-26","up":0.0211,"mid":0.018,"lo":0.0142},{"date":"2023-04-29","up":0.0214,"mid":0.0186,"lo":0.0151},
{"date":"2023-05-02","up":0.0216,"mid":0.019,"lo":0.016},{"date":"2023-05-05","up":0.0213,"mid":0.0192,"lo":0.0165},{"date":"2023-05-08","up":0.0211,"mid":0.0193,"lo":0.0171},{"date":"2023-05-11","up":0.0218,"mid":0.0196,"lo":0.0172},{"date":"2023-05-14","up":0.0225,"mid":0.0197,"lo":0.0171},{"date":"2023-05-17","up":0.0224,"mid":0.0196,"lo":0.0169},{"date":"2023-05-20","up":0.0222,"mid":0.0195,"lo":0.0167},{"date":"2023-05-23","up":0.0222,"mid":0.0195,"lo":0.0165},{"date":"2023-05-26","up":0.0222,"mid":0.0194,"lo":0.0162},{"date":"2023-05-29","up":0.0222,"mid":0.0194,"lo":0.0159},
{"date":"2023-06-01","up":0.0211,"mid":0.0188,"lo":0.0156},{"date":"2023-06-04","up":0.0201,"mid":0.0183,"lo":0.0153},{"date":"2023-06-07","up":0.0198,"mid":0.0178,"lo":0.0152},{"date":"2023-06-10","up":0.0192,"mid":0.0173,"lo":0.015},{"date":"2023-06-13","up":0.0183,"mid":0.0168,"lo":0.0148},{"date":"2023-06-16","up":0.0179,"mid":0.0163,"lo":0.0145},{"date":"2023-06-19","up":0.0176,"mid":0.0158,"lo":0.014},{"date":"2023-06-22","up":0.0175,"mid":0.0154,"lo":0.0135},{"date":"2023-06-25","up":0.0175,"mid":0.015,"lo":0.0127},{"date":"2023-06-28","up":0.0169,"mid":0.0146,"lo":0.0128},
{"date":"2023-07-01","up":0.0162,"mid":0.0143,"lo":0.0131},{"date":"2023-07-04","up":0.0156,"mid":0.0141,"lo":0.0132},{"date":"2023-07-07","up":0.0153,"mid":0.014,"lo":0.0132},{"date":"2023-07-10","up":0.0152,"mid":0.0142,"lo":0.0131},{"date":"2023-07-13","up":0.0162,"mid":0.0145,"lo":0.0128},{"date":"2023-07-16","up":0.0172,"mid":0.0148,"lo":0.0126},{"date":"2023-07-19","up":0.0185,"mid":0.0154,"lo":0.0128},{"date":"2023-07-22","up":0.0199,"mid":0.0161,"lo":0.0131},{"date":"2023-07-25","up":0.0198,"mid":0.0168,"lo":0.0141},{"date":"2023-07-28","up":0.0195,"mid":0.0172,"lo":0.0151},
{"date":"2023-07-31","up":0.0192,"mid":0.0175,"lo":0.015},{"date":"2023-08-03","up":0.0193,"mid":0.0172,"lo":0.0148},{"date":"2023-08-06","up":0.0194,"mid":0.017,"lo":0.0146},{"date":"2023-08-09","up":0.0189,"mid":0.0167,"lo":0.0147},{"date":"2023-08-12","up":0.0177,"mid":0.0163,"lo":0.0148},{"date":"2023-08-15","up":0.0174,"mid":0.016,"lo":0.0147},{"date":"2023-08-18","up":0.0172,"mid":0.0159,"lo":0.0146},{"date":"2023-08-21","up":0.0171,"mid":0.0158,"lo":0.0147},{"date":"2023-08-24","up":0.0169,"mid":0.0157,"lo":0.0147},{"date":"2023-08-27","up":0.0168,"mid":0.0155,"lo":0.0146},
{"date":"2023-08-30","up":0.0165,"mid":0.0154,"lo":0.0145},{"date":"2023-09-02","up":0.0163,"mid":0.0153,"lo":0.0144},{"date":"2023-09-05","up":0.0163,"mid":0.0151,"lo":0.0143},{"date":"2023-09-08","up":0.0162,"mid":0.015,"lo":0.0143},{"date":"2023-09-11","up":0.0161,"mid":0.0151,"lo":0.0144},{"date":"2023-09-14","up":0.016,"mid":0.0152,"lo":0.0144},{"date":"2023-09-17","up":0.0159,"mid":0.0153,"lo":0.0143},{"date":"2023-09-18","up":0.0159,"mid":0.0153,"lo":0.0143}
],
"ma":[
{"date":"2022-11-21","v":0.0274},{"date":"2022-11-27","v":0.0288},{"date":"2022-12-01","v":0.0301},{"date":"2022-12-04","v":0.0313},{"date":"2022-12-08","v":0.0339},{"date":"2022-12-12","v":0.0352},{"date":"2022-12-16","v":0.0374},{"date":"2022-12-21","v":0.0386},{"date":"2022-12-25","v":0.0396},{"date":"2022-12-29","v":0.0402},{"date":"2023-01-01","v":0.0403},{"date":"2023-01-06","v":0.0411},{"date":"2023-01-08","v":0.0413},{"date":"2023-01-13","v":0.0412},{"date":"2023-01-19","v":0.0405},{"date":"2023-01-23","v":0.0391},{"date":"2023-01-27","v":0.0372},{"date":"2023-02-01","v":0.0352},{"date":"2023-02-06","v":0.0333},{"date":"2023-02-11","v":0.0321},{"date":"2023-02-16","v":0.0308},{"date":"2023-02-21","v":0.0294},{"date":"2023-02-25","v":0.0278},{"date":"2023-03-03","v":0.0265},{"date":"2023-03-06","v":0.0248},{"date":"2023-03-10","v":0.0238},{"date":"2023-03-15","v":0.0224},{"date":"2023-03-21","v":0.0209},{"date":"2023-03-31","v":0.0202},{"date":"2023-04-06","v":0.0192},{"date":"2023-04-12","v":0.0185},{"date":"2023-04-16","v":0.018},{"date":"2023-04-19","v":0.0177},{"date":"2023-04-25","v":0.0177},{"date":"2023-04-30","v":0.0178},{"date":"2023-05-06","v":0.0181},{"date":"2023-05-11","v":0.0183},{"date":"2023-05-14","v":0.0184},{"date":"2023-05-21","v":0.0185},{"date":"2023-05-27","v":0.0188},{"date":"2023-06-05","v":0.0188},{"date":"2023-06-12","v":0.0186},{"date":"2023-06-21","v":0.0177},{"date":"2023-06-30","v":0.0165},{"date":"2023-07-05","v":0.0159},{"date":"2023-07-12","v":0.0153},{"date":"2023-07-19","v":0.0154},{"date":"2023-07-28","v":0.0156},{"date":"2023-08-06","v":0.0159},{"date":"2023-08-15","v":0.0163},{"date":"2023-08-24","v":0.0164},{"date":"2023-09-02","v":0.0164},{"date":"2023-09-11","v":0.0158},{"date":"2023-09-18","v":0.0156}
],
"maLong":[
{"date":"2023-04-20","v":0.0282},{"date":"2023-05-03","v":0.0278},{"date":"2023-05-17","v":0.0274},{"date":"2023-05-27","v":0.0272},{"date":"2023-06-05","v":0.0266},{"date":"2023-06-12","v":0.0257},{"date":"2023-06-18","v":0.0249},{"date":"2023-06-24","v":0.0238},{"date":"2023-07-01","v":0.0227},{"date":"2023-07-06","v":0.022},{"date":"2023-07-12","v":0.0213},{"date":"2023-07-19","v":0.0207},{"date":"2023-07-31","v":0.0194},{"date":"2023-08-08","v":0.0191},{"date":"2023-08-15","v":0.0182},{"date":"2023-08-24","v":0.0177},{"date":"2023-09-02","v":0.0173},{"date":"2023-09-11","v":0.0171},{"date":"2023-09-18","v":0.0168}
],
"rsi":[
{"date":"2022-11-03","v":36.2},{"date":"2022-11-04","v":33.7},{"date":"2022-11-06","v":52.9},{"date":"2022-11-08","v":55.4},{"date":"2022-11-10","v":64.6},{"date":"2022-11-12","v":73.7},{"date":"2022-11-13","v":61.2},{"date":"2022-11-14","v":56.2},{"date":"2022-11-16","v":67.5},{"date":"2022-11-17","v":61.2},{"date":"2022-11-18","v":67.5},{"date":"2022-11-20","v":60},{"date":"2022-11-22","v":64.6},{"date":"2022-11-24","v":72.5},{"date":"2022-11-25","v":67.5},{"date":"2022-11-27","v":73.7},{"date":"2022-11-28","v":70},{"date":"2022-11-30","v":73.7},{"date":"2022-12-02","v":72.5},{"date":"2022-12-03","v":79.2},{"date":"2022-12-05","v":85},{"date":"2022-12-06","v":83.7},{"date":"2022-12-07","v":76.2},{"date":"2022-12-08","v":76.2},{"date":"2022-12-09","v":52},{"date":"2022-12-10","v":49.6},{"date":"2022-12-11","v":56.2},{"date":"2022-12-13","v":57.5},{"date":"2022-12-14","v":51.2},{"date":"2022-12-15","v":53.7},{"date":"2022-12-16","v":52},{"date":"2022-12-19","v":38.3},{"date":"2022-12-20","v":40},{"date":"2022-12-21","v":37.5},{"date":"2022-12-22","v":38.8},{"date":"2022-12-24","v":46.2},{"date":"2022-12-25","v":45.4},{"date":"2022-12-26","v":40},{"date":"2022-12-27","v":41.2},{"date":"2022-12-28","v":45},{"date":"2022-12-29","v":40.8},{"date":"2022-12-31","v":39.6},
{"date":"2023-01-01","v":43.7},{"date":"2023-01-02","v":45.4},{"date":"2023-01-03","v":51.2},{"date":"2023-01-05","v":51.6},{"date":"2023-01-06","v":55},{"date":"2023-01-08","v":42.9},{"date":"2023-01-09","v":45.8},{"date":"2023-01-11","v":48.7},{"date":"2023-01-13","v":43.7},{"date":"2023-01-15","v":50},{"date":"2023-01-16","v":45.8},{"date":"2023-01-17","v":52},{"date":"2023-01-19","v":38.8},{"date":"2023-01-21","v":42.5},{"date":"2023-01-23","v":37.5},{"date":"2023-01-25","v":37.1},{"date":"2023-01-27","v":35},{"date":"2023-01-28","v":29.7},{"date":"2023-01-30","v":36.6},{"date":"2023-01-31","v":35.8},{"date":"2023-02-02","v":28.3},{"date":"2023-02-03","v":30.8},{"date":"2023-02-06","v":27.9},{"date":"2023-02-07","v":26.2},{"date":"2023-02-09","v":34.6},{"date":"2023-02-11","v":34.2},{"date":"2023-02-12","v":38.8},{"date":"2023-02-13","v":36.6},{"date":"2023-02-15","v":37.5},{"date":"2023-02-17","v":35.8},{"date":"2023-02-19","v":35.4},{"date":"2023-02-20","v":43.7},{"date":"2023-02-21","v":40.4},{"date":"2023-02-22","v":45},{"date":"2023-02-23","v":42.9},{"date":"2023-02-24","v":35.4},{"date":"2023-02-26","v":34.1},{"date":"2023-02-28","v":35},
{"date":"2023-03-01","v":34.1},{"date":"2023-03-02","v":45.8},{"date":"2023-03-03","v":35},{"date":"2023-03-04","v":33.7},{"date":"2023-03-05","v":36.2},{"date":"2023-03-06","v":34.6},{"date":"2023-03-08","v":33.3},{"date":"2023-03-10","v":26.2},{"date":"2023-03-11","v":31.6},{"date":"2023-03-13","v":32},{"date":"2023-03-15","v":38.3},{"date":"2023-03-16","v":36.2},{"date":"2023-03-17","v":40.8},{"date":"2023-03-18","v":40.4},{"date":"2023-03-19","v":43.7},{"date":"2023-03-20","v":40.4},{"date":"2023-03-21","v":37.5},{"date":"2023-03-22","v":42.5},{"date":"2023-03-23","v":41.6},{"date":"2023-03-24","v":57.5},{"date":"2023-03-25","v":54.2},{"date":"2023-03-26","v":52.9},{"date":"2023-03-27","v":53.3},{"date":"2023-03-28","v":45},{"date":"2023-03-30","v":42.9},{"date":"2023-03-31","v":41.2},{"date":"2023-04-01","v":45.4},{"date":"2023-04-02","v":37.5},{"date":"2023-04-03","v":40},{"date":"2023-04-04","v":39.6},{"date":"2023-04-06","v":33.3},{"date":"2023-04-07","v":34.6},{"date":"2023-04-08","v":31.2},{"date":"2023-04-09","v":42.5},{"date":"2023-04-10","v":43.7},{"date":"2023-04-12","v":50},{"date":"2023-04-13","v":45.4},{"date":"2023-04-15","v":45},{"date":"2023-04-17","v":50.4},{"date":"2023-04-19","v":60},{"date":"2023-04-20","v":57.5},{"date":"2023-04-21","v":58.3},{"date":"2023-04-22","v":63.7},{"date":"2023-04-24","v":63.7},{"date":"2023-04-25","v":65.4},{"date":"2023-04-26","v":71.2},{"date":"2023-04-27","v":60.4},{"date":"2023-04-28","v":61.2},{"date":"2023-04-30","v":57.9},
{"date":"2023-05-01","v":59.2},{"date":"2023-05-02","v":55.4},{"date":"2023-05-03","v":46.7},{"date":"2023-05-04","v":44.6},{"date":"2023-05-05","v":46.2},{"date":"2023-05-06","v":42.5},{"date":"2023-05-07","v":42.5},{"date":"2023-05-09","v":60.4},{"date":"2023-05-10","v":66.2},{"date":"2023-05-11","v":62.5},{"date":"2023-05-13","v":64.6},{"date":"2023-05-15","v":51.2},{"date":"2023-05-16","v":48.7},{"date":"2023-05-17","v":43.7},{"date":"2023-05-18","v":47.9},{"date":"2023-05-19","v":45},{"date":"2023-05-20","v":46.7},{"date":"2023-05-21","v":46.2},{"date":"2023-05-22","v":51.2},{"date":"2023-05-23","v":42.5},{"date":"2023-05-24","v":42.9},{"date":"2023-05-25","v":45},{"date":"2023-05-26","v":42.9},{"date":"2023-05-27","v":43.7},{"date":"2023-05-29","v":40.4},{"date":"2023-05-30","v":32.5},{"date":"2023-06-01","v":34.6},{"date":"2023-06-03","v":41.2},{"date":"2023-06-05","v":35},{"date":"2023-06-06","v":34.6},{"date":"2023-06-07","v":38.7},{"date":"2023-06-08","v":37.9},{"date":"2023-06-10","v":48.7},{"date":"2023-06-12","v":43.7},{"date":"2023-06-13","v":36.6},{"date":"2023-06-15","v":36.2},{"date":"2023-06-17","v":31.2},{"date":"2023-06-19","v":38.3},{"date":"2023-06-22","v":26.2},{"date":"2023-06-23","v":40.4},{"date":"2023-06-24","v":41.2},{"date":"2023-06-26","v":37.5},{"date":"2023-06-28","v":38.3},{"date":"2023-06-29","v":43.7},
{"date":"2023-07-01","v":37.5},{"date":"2023-07-02","v":45.8},{"date":"2023-07-03","v":49.2},{"date":"2023-07-05","v":44.6},{"date":"2023-07-06","v":45},{"date":"2023-07-08","v":44.2},{"date":"2023-07-10","v":58.3},{"date":"2023-07-11","v":60.4},{"date":"2023-07-12","v":66.2},{"date":"2023-07-14","v":65},{"date":"2023-07-15","v":70},{"date":"2023-07-17","v":68.7},{"date":"2023-07-18","v":72.5},{"date":"2023-07-19","v":72.9},{"date":"2023-07-21","v":79.2},{"date":"2023-07-22","v":77},{"date":"2023-07-23","v":58.3},{"date":"2023-07-24","v":52.9},{"date":"2023-07-26","v":54.2},{"date":"2023-07-27","v":58.3},{"date":"2023-07-28","v":49.2},{"date":"2023-07-29","v":48.7},{"date":"2023-07-31","v":45},{"date":"2023-08-01","v":38.3},{"date":"2023-08-02","v":37.5},{"date":"2023-08-04","v":46.2},{"date":"2023-08-05","v":42.9},{"date":"2023-08-09","v":55.4},{"date":"2023-08-10","v":55},{"date":"2023-08-11","v":46.2},{"date":"2023-08-13","v":56.2},{"date":"2023-08-14","v":45.8},{"date":"2023-08-15","v":45},{"date":"2023-08-16","v":48.7},{"date":"2023-08-17","v":47.9},{"date":"2023-08-19","v":41.2},{"date":"2023-08-20","v":47.1},{"date":"2023-08-21","v":43.7},{"date":"2023-08-22","v":51.2},{"date":"2023-08-23","v":51.2},{"date":"2023-08-24","v":47.9},{"date":"2023-08-25","v":40.4},{"date":"2023-08-26","v":46.2},{"date":"2023-08-27","v":45.4},{"date":"2023-08-28","v":49.6},{"date":"2023-08-29","v":45.4},{"date":"2023-08-31","v":45.8},{"date":"2023-09-01","v":42.5},{"date":"2023-09-02","v":46.2},{"date":"2023-09-03","v":46.2},{"date":"2023-09-04","v":42.9},{"date":"2023-09-05","v":43.7},{"date":"2023-09-06","v":42.9},{"date":"2023-09-08","v":47.9},{"date":"2023-09-10","v":52.5},{"date":"2023-09-11","v":50},{"date":"2023-09-12","v":56.2},{"date":"2023-09-13","v":57.5},{"date":"2023-09-14","v":50},{"date":"2023-09-15","v":45},{"date":"2023-09-17","v":52},{"date":"2023-09-18","v":52.64}
]
},
"vconcat":[
{"width":1183,"height":60,"view":{"stroke":null},"data":{"values":[{"name":"Ankr","symbol":"ANKR"}]},
"layer":[
{"mark":{"type":"point","shape":"M-.85 -.22V-.48L0 -.88L.85 -.48V-.22M-.85 .22V.48L0 .88L.85 .48V.22M0 .36V.88M.36 0A.36 .36 0 1 1 -.36 0A.36 .36 0 1 1 .36 0","filled":false,"size":1024,"stroke":"#5a9bf8","strokeWidth":4,"opacity":1},
"encoding":{"x":{"datum":36.2,"type":"quantitative","scale":{"domain":[20,1203],"nice":false,"zero":false},"axis":null},"y":{"datum":80,"type":"quantitative","scale":{"domain":[56,116],"reverse":true,"nice":false,"zero":false},"axis":null}}},
{"mark":{"type":"text","align":"left","baseline":"alphabetic","fontSize":36,"fontWeight":"bold","color":"#1f2133"},
"encoding":{"text":{"field":"name"},"x":{"datum":60,"type":"quantitative","scale":{"domain":[20,1203],"nice":false,"zero":false},"axis":null},"y":{"datum":90,"type":"quantitative","scale":{"domain":[56,116],"reverse":true,"nice":false,"zero":false},"axis":null}}},
{"mark":{"type":"rect","fill":"#eef1f5","cornerRadius":5},
"encoding":{"x":{"datum":165,"type":"quantitative","scale":{"domain":[20,1203],"nice":false,"zero":false},"axis":null},"x2":{"datum":242},"y":{"datum":72,"type":"quantitative","scale":{"domain":[56,116],"reverse":true,"nice":false,"zero":false},"axis":null},"y2":{"datum":94}}},
{"mark":{"type":"text","align":"left","baseline":"alphabetic","fontSize":18,"fontWeight":"bold","color":"#566380"},
"encoding":{"text":{"field":"symbol"},"x":{"datum":175,"type":"quantitative","scale":{"domain":[20,1203],"nice":false,"zero":false},"axis":null},"y":{"datum":89.5,"type":"quantitative","scale":{"domain":[56,116],"reverse":true,"nice":false,"zero":false},"axis":null}}}
]},
{"width":1183,"height":422,"data":{"name":"candles"},
"encoding":{"x":{"field":"date","type":"temporal","title":null,"scale":{"type":"utc","padding":0,"domain":["2022-11-02T04:33:00Z","2023-09-19T02:24:00Z"]},"axis":{"labels":false,"ticks":false,"domain":false,"grid":true,"tickCount":"month","gridColor":"#e8e8e8","gridDash":[6,5]}}},
"resolve":{"scale":{"y":"independent"}},
"layer":[
{"mark":{"type":"bar","size":2.6,"opacity":0.3},
"encoding":{"y":{"field":"v","type":"quantitative","scale":{"domain":[0,422]},"axis":null},"color":{"condition":{"test":"datum.c>=datum.o","value":"#4fb68a"},"value":"#de5f70"}}},
{"data":{"name":"bands"},"mark":{"type":"area","color":"#e9f5f4","opacity":1},
"encoding":{"y":{"field":"up","type":"quantitative","title":null,"scale":{"domain":[0.00854,0.07],"zero":false,"nice":false},"axis":{"orient":"right","values":[0.01,0.02,0.03,0.04,0.05,0.06,0.07],"format":"$.5f","grid":true,"gridColor":"#e8e8e8","gridDash":[6,4],"domain":false,"ticks":false,"labelPadding":6,"labelColor":"#222","labelFontSize":12.5}},"y2":{"field":"lo"}}},
{"data":{"name":"bands"},"mark":{"type":"line","color":"#3fb2a2","strokeWidth":1},
"encoding":{"y":{"field":"up","type":"quantitative","scale":{"domain":[0.00854,0.07],"zero":false,"nice":false},"axis":null}}},
{"data":{"name":"bands"},"mark":{"type":"line","color":"#3fb2a2","strokeWidth":1},
"encoding":{"y":{"field":"lo","type":"quantitative","scale":{"domain":[0.00854,0.07],"zero":false,"nice":false},"axis":null}}},
{"data":{"name":"bands"},"mark":{"type":"line","color":"#b4e3da","strokeWidth":1},
"encoding":{"y":{"field":"mid","type":"quantitative","scale":{"domain":[0.00854,0.07],"zero":false,"nice":false},"axis":null}}},
{"data":{"name":"ma"},"mark":{"type":"line","color":"#9079cd","strokeWidth":1},
"encoding":{"y":{"field":"v","type":"quantitative","scale":{"domain":[0.00854,0.07],"zero":false,"nice":false},"axis":null}}},
{"data":{"name":"maLong"},"mark":{"type":"line","color":"#6b70c9","strokeWidth":1},
"encoding":{"y":{"field":"v","type":"quantitative","scale":{"domain":[0.00854,0.07],"zero":false,"nice":false},"axis":null}}},
{"mark":{"type":"rule","strokeWidth":1},
"encoding":{"y":{"field":"l","type":"quantitative","scale":{"domain":[0.00854,0.07],"zero":false,"nice":false},"axis":null},"y2":{"field":"h"},"color":{"condition":{"test":"datum.c>=datum.o","value":"#4fb68a"},"value":"#de5f70"}}},
{"mark":{"type":"bar","size":2.6},
"encoding":{"y":{"field":"o","type":"quantitative","scale":{"domain":[0.00854,0.07],"zero":false,"nice":false},"axis":null},"y2":{"field":"c"},"color":{"condition":{"test":"datum.c>=datum.o","value":"#4fb68a"},"value":"#de5f70"}}},
{"data":{"values":[{"date":"2023-09-18","price":0.01565,"label":"0.01565"}]},"mark":{"type":"rect","fill":"#8bba9c","cornerRadius":3,"width":59.7,"height":22.6,"xOffset":34,"yOffset":-1.3},
"encoding":{"y":{"field":"price","type":"quantitative","scale":{"domain":[0.00854,0.07],"zero":false,"nice":false},"axis":null}}},
{"data":{"values":[{"date":"2023-09-18","price":0.01565,"label":"0.01565"}]},"mark":{"type":"text","color":"white","fontSize":12.5,"baseline":"middle","align":"center","xOffset":34,"yOffset":-1},
"encoding":{"y":{"field":"price","type":"quantitative","scale":{"domain":[0.00854,0.07],"zero":false,"nice":false},"axis":null},"text":{"field":"label"}}}
]},
{"width":1183,"height":100,"data":{"name":"rsi"},
"encoding":{"x":{"field":"date","type":"temporal","title":null,"scale":{"type":"utc","padding":0,"domain":["2022-11-02T04:33:00Z","2023-09-19T02:24:00Z"]},"axis":{"ticks":false,"domain":false,"grid":true,"tickCount":"month","gridColor":"#e8e8e8","gridDash":[6,5],"labelExpr":"utcFormat(datum.value,'%b')","labelColor":"#444","labelFontSize":12.5,"labelPadding":4}}},
"layer":[
{"data":{"values":[{"level":70},{"level":50},{"level":30}]},"mark":{"type":"rule","color":"#c8f0fb","strokeDash":[6,3],"strokeWidth":1},
"encoding":{"x":{},"y":{"field":"level","type":"quantitative","title":null,"scale":{"domain":[-5.9,119],"zero":false,"nice":false},"axis":{"orient":"right","values":[0,100],"grid":false,"domain":false,"ticks":true,"tickSize":5,"tickColor":"#ddd","labelPadding":5,"labelColor":"#222","labelFontSize":12.5}}}},
{"mark":{"type":"line","color":"#9c27b0","strokeWidth":1},"encoding":{"y":{"field":"v","type":"quantitative"}}},
{"data":{"values":[{"date":"2023-09-18","v":52.64,"label":"52.64"}]},"mark":{"type":"rect","fill":"#8f1296","cornerRadius":3,"width":44,"height":22.7,"xOffset":26.3,"yOffset":-1.5},
"encoding":{"y":{"field":"v","type":"quantitative"}}},
{"data":{"values":[{"date":"2023-09-18","v":52.64,"label":"52.64"}]},"mark":{"type":"text","color":"white","fontSize":12.5,"baseline":"middle","align":"center","xOffset":26.3,"yOffset":-1.5},
"encoding":{"y":{"field":"v","type":"quantitative"},"text":{"field":"label"}}}
]}
],
"config":{"font":"DejaVu Sans","view":{"stroke":"#e8e8e8"},"axis":{"labelFont":"DejaVu Sans"}}
}
